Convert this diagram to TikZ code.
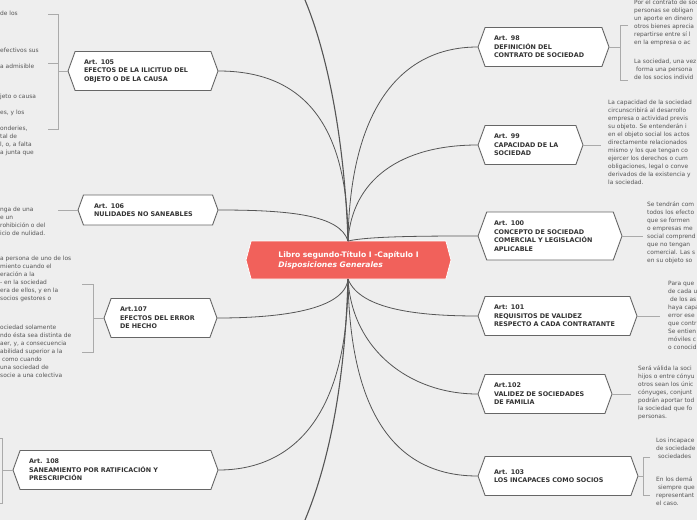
\documentclass[tikz,border=0pt]{standalone}
\usepackage{fontspec}
\setmainfont{DejaVu Sans}
\usetikzlibrary{shapes.symbols}
\definecolor{bg}{HTML}{EEEEEE}
\definecolor{txt}{HTML}{555555}
\definecolor{dark}{HTML}{333333}
\definecolor{lin}{HTML}{555555}
\definecolor{redc}{HTML}{F1615B}
\definecolor{brk}{HTML}{AAAAAA}
\tikzset{
 art/.style={signal, signal to=east and west, signal pointer angle=140, draw=gray!80!black, line width=0.9pt, fill=white, font=\fontsize{6.4}{8.6}\selectfont\bfseries, text=dark, align=left, inner sep=0pt},
 small/.style={font=\fontsize{5.9}{8}\selectfont, text=txt, anchor=north west, align=left, inner sep=0pt},
 conn/.style={draw=lin, line width=0.8pt},
 bk/.style={draw=brk, line width=0.8pt},
}
\begin{document}
\begin{tikzpicture}[x=1pt,y=-1pt]
\fill[bg] (0,0) rectangle (697,520);
\useasboundingbox (0,0) rectangle (697,520);
\clip (0,0) rectangle (697,520);
% center
\node[signal, signal to=east and west, signal pointer angle=150, fill=redc, draw=white, line width=0.8pt, minimum width=205, minimum height=38, text=white, align=left, font=\fontsize{7.6}{10.5}\selectfont\bfseries] (c) at (348.5,260) {Libro segundo-Título I -Capítulo I\\\textit{Disposiciones Generales}};
\coordinate (ct) at (348,241);
\coordinate (cb) at (348,279);
% boxes
\node[art, minimum width=150, minimum height=39, text width=118] (a105) at (143,71) {Art. 105\\EFECTOS DE LA ILICITUD DEL\\OBJETO O DE LA CAUSA};
\node[art, minimum width=140, minimum height=30, text width=108] (a106) at (148,210) {Art. 106\\NULIDADES NO SANEABLES};
\node[art, minimum width=113, minimum height=39, text width=81] (a107) at (160.5,318) {Art.107\\EFECTOS DEL ERROR\\DE HECHO};
\node[art, minimum width=205, minimum height=39, text width=173] (a108) at (115.5,470) {Art. 108\\SANEAMIENTO POR RATIFICACIÓN Y\\PRESCRIPCIÓN};
\node[art, minimum width=131, minimum height=39, text width=99] (a98) at (543.5,47) {Art. 98\\DEFINICIÓN DEL\\CONTRATO DE SOCIEDAD};
\node[art, minimum width=105, minimum height=39, text width=73] (a99) at (530.5,145) {Art. 99\\CAPACIDAD DE LA\\SOCIEDAD};
\node[art, minimum width=144, minimum height=48, text width=112] (a100) at (550,236) {Art. 100\\CONCEPTO DE SOCIEDAD\\COMERCIAL Y LEGISLACIÓN\\APLICABLE};
\node[art, minimum width=159, minimum height=39, text width=127] (a101) at (557.5,316) {Art: 101\\REQUISITOS DE VALIDEZ\\RESPECTO A CADA CONTRATANTE};
\node[art, minimum width=134, minimum height=39, text width=102] (a102) at (545,394) {Art.102\\VALIDEZ DE SOCIEDADES\\DE FAMILIA};
\node[art, minimum width=160, minimum height=39, text width=128] (a103) at (558,476) {Art. 103\\LOS INCAPACES COMO SOCIOS};
% main connectors
\coordinate (top1) at (305,0);
\coordinate (bot1) at (305,520);
\begin{scope}[on background layer/.style={}]
\draw[conn, line width=1.1pt] (ct) .. controls (345,150) and (330,60) .. (top1);
\draw[conn, line width=1.1pt] (cb) .. controls (345,380) and (330,460) .. (bot1);
\draw[conn] (ct) .. controls (348,120) and (300,71) .. (a105.east);
\draw[conn] (ct) .. controls (340,215) and (290,210) .. (a106.east);
\draw[conn] (cb) .. controls (345,310) and (280,318) .. (a107.east);
\draw[conn] (cb) .. controls (348,420) and (290,470) .. (a108.east);
\draw[conn] (ct) .. controls (350,110) and (400,47) .. (a98.west);
\draw[conn] (ct) .. controls (352,180) and (400,145) .. (a99.west);
\draw[conn] (ct) .. controls (370,236) and (430,236) .. (a100.west);
\draw[conn] (cb) .. controls (360,310) and (420,316) .. (a101.west);
\draw[conn] (cb) .. controls (352,350) and (410,394) .. (a102.west);
\draw[conn] (cb) .. controls (350,420) and (400,476) .. (a103.west);
\end{scope}
% brackets / leaders
\coordinate (b105) at (58,71);
\draw[bk] (a105.west) -- (b105); \draw[bk] (48,14) -- (58,14) -- (58,129) -- (48,129); \draw[bk] (48,63) -- (58,63);
\coordinate (b106) at (58,210);
\draw[bk] (a106.west) -- (b106);
\coordinate (b107) at (93,318);
\draw[bk] (a107.west) -- (b107); \draw[bk] (82,284) -- (93,284) -- (93,352) -- (82,352);
\coordinate (b108) at (2,470);
\draw[bk] (a108.west) -- (b108); \draw[bk] (-5,438) -- (2,438) -- (2,503) -- (-5,503);
\coordinate (b98) at (620,47);
\draw[bk] (a98.east) -- (b98); \draw[bk] (628,25) -- (620,25) -- (620,80) -- (628,80);
\coordinate (b99) at (601,145);
\draw[bk] (a99.east) -- (b99);
\coordinate (b100) at (643,236);
\draw[bk] (a100.east) -- (b100);
\coordinate (b101) at (660,316);
\draw[bk] (a101.east) -- (b101);
\coordinate (b102) at (631,394);
\draw[bk] (a102.east) -- (b102);
\coordinate (b103) at (643,476);
\draw[bk] (a103.east) -- (b103); \draw[bk] (650,457) -- (643,457) -- (643,495) -- (650,495);
% left texts
\node[small] (t1) at (0,-5) {ausa para};
\node[small] (t2) at (0,11) {de los};
\node[small] (t3) at (0,48) {efectivos sus};
\node[small] (t4) at (0,64) {a admisible};
\node[small] (t5) at (0,94) {jeto o causa};
\node[small] (t6) at (0,110) {es, y los};
\node[small] (t7) at (0,126) {onderies,\\tal de\\l, o, a falta\\a junta que};
\node[small] (t8) at (0,207) {nga de una\\e un\\rohibición o del\\icio de nulidad.};
\node[small] (t9) at (0,256) {a persona de uno de los\\miento cuando el\\eración a la\\- en la sociedad\\era de ellos, y en la\\socios gestores o};
\node[small] (t10) at (0,325) {ociedad solamente\\ndo ésta sea distinta de\\aer, y, a consecuencia\\abilidad superior a la\\\ como cuando\\una sociedad de\\socie a una colectiva};
% right texts
\node[small] (r1) at (634,0) {Por el contrato de sociedad\\personas se obligan\\un aporte en dinero\\otros bienes aprecia\\repartirse entre sí l\\en la empresa o ac};
\node[small] (r2) at (634,59) {La sociedad, una vez\\\ forma una persona\\de los socios individ};
\node[small] (r3) at (608,100) {La capacidad de la sociedad\\circunscribirá al desarrollo\\empresa o actividad previs\\su objeto. Se entenderán i\\en el objeto social los actos\\directamente relacionados\\mismo y los que tengan co\\ejercer los derechos o cum\\obligaciones, legal o conve\\derivados de la existencia y\\la sociedad.};
\node[small] (r4) at (647,202) {Se tendrán com\\todos los efecto\\que se formen\\o empresas me\\social comprend\\que no tengan\\comercial. Las s\\en su objeto so};
\node[small] (r5) at (668,281) {Para que\\de cada u\\\ de los as\\haya capa\\error ese\\que contr\\Se entien\\móviles c\\o conocid};
\node[small] (r6) at (638,366) {Será válida la soci\\hijos o entre cónyu\\otros sean los únic\\cónyuges, conjunt\\podrán aportar tod\\la sociedad que fo\\personas.};
\node[small] (r7) at (656,438) {Los incapace\\de sociedade\\\ sociedades};
\node[small] (r8) at (656,477) {En los demá\\\ siempre que\\representant\\el caso.};
\end{tikzpicture}
\end{document}
